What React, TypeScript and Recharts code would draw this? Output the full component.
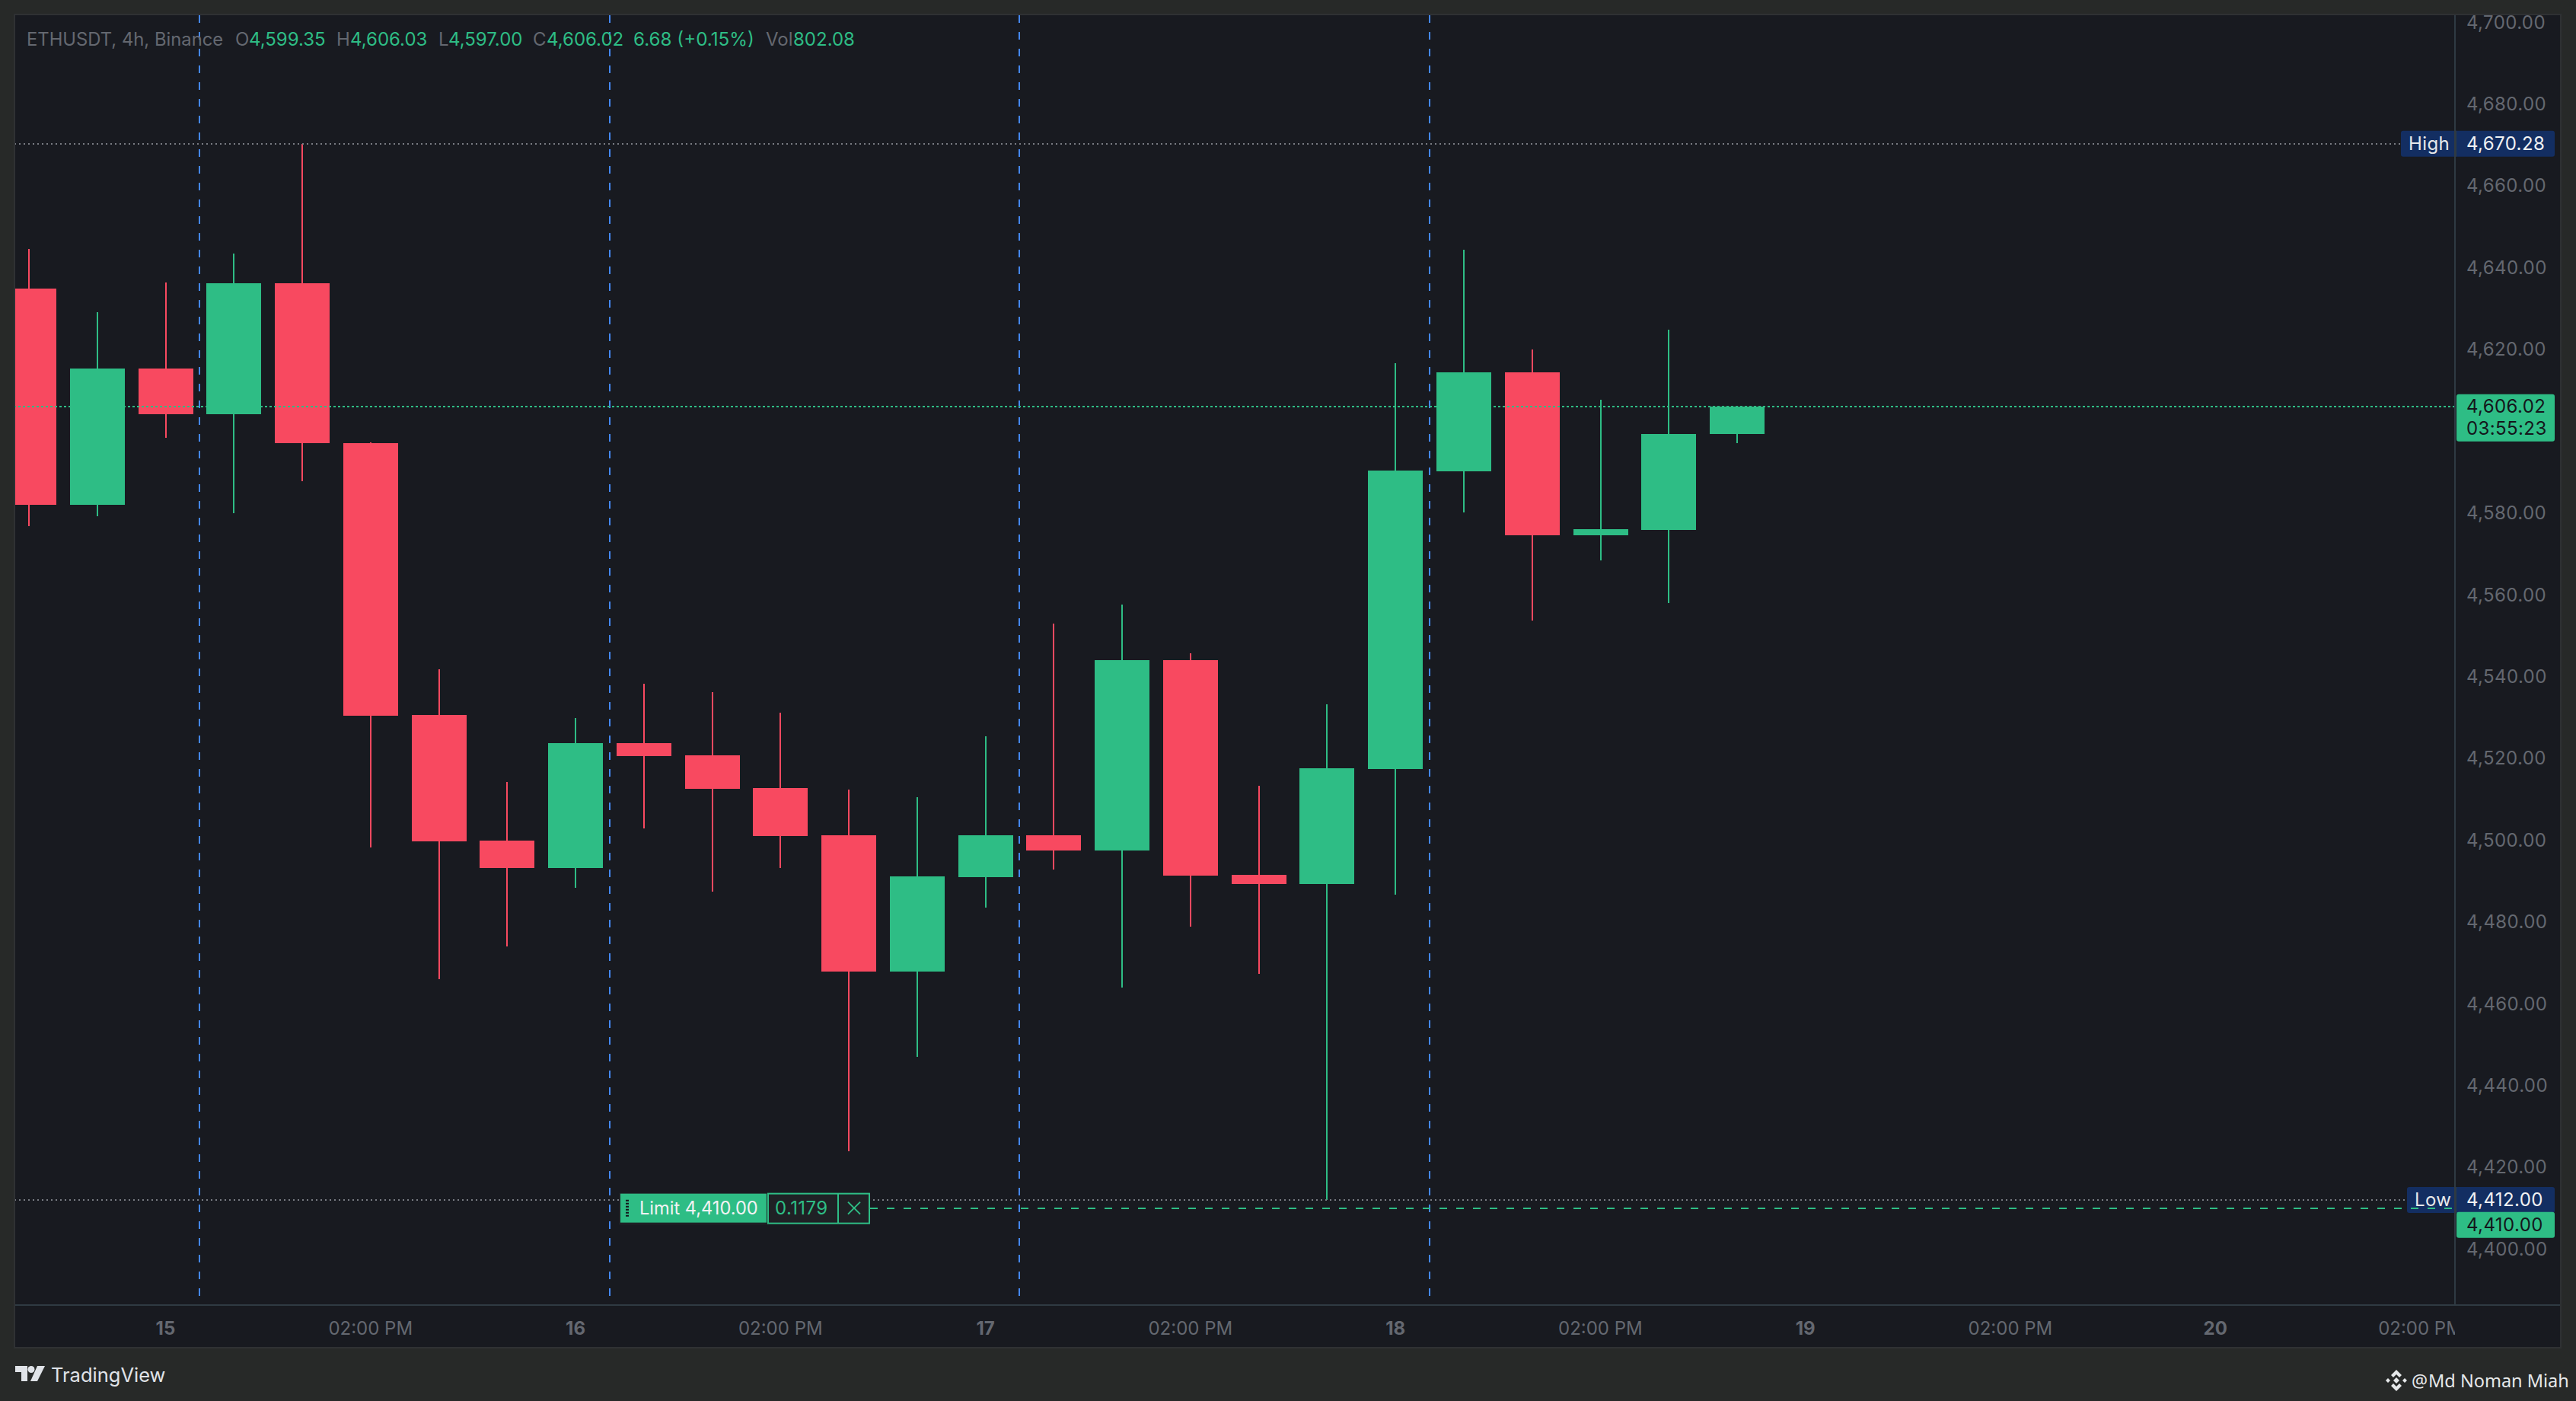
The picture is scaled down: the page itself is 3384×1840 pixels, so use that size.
import { Bar, ComposedChart, ReferenceLine, XAxis, YAxis } from "recharts";

const opens = [4634.9, 4582.0, 4615.3, 4604.1, 4636.2, 4597.1, 4530.6, 4499.8, 4493.2, 4523.7, 4520.7, 4512.7, 4501.2, 4467.9, 4491.0, 4501.2, 4497.4, 4544.0, 4491.5, 4489.3, 4517.4, 4590.1, 4614.4, 4574.5, 4575.8, 4599.35];
const highs = [4644.5, 4629.1, 4636.3, 4643.4, 4670.28, 4597.2, 4541.7, 4514.2, 4529.9, 4538.2, 4536.2, 4531.2, 4512.3, 4510.5, 4525.4, 4553.0, 4557.6, 4545.7, 4513.3, 4533.2, 4616.6, 4644.4, 4619.9, 4607.7, 4624.8, 4606.03];
const lows = [4576.8, 4579.2, 4598.3, 4580.0, 4587.7, 4498.2, 4466.0, 4474.0, 4488.4, 4502.8, 4487.4, 4493.2, 4423.9, 4447.0, 4483.5, 4492.8, 4464.0, 4478.8, 4467.3, 4412.0, 4486.7, 4580.1, 4553.7, 4568.4, 4557.9, 4597.0];
const closes = [4582.0, 4615.3, 4604.1, 4636.2, 4597.1, 4530.4, 4499.6, 4493.2, 4523.7, 4520.5, 4512.6, 4501.0, 4467.9, 4491.1, 4501.2, 4497.4, 4544.0, 4491.3, 4489.3, 4517.6, 4590.4, 4614.4, 4574.5, 4576.0, 4599.3, 4606.02];

const xTicks = [2, 5, 8, 11, 14, 17, 20, 23, 26, 29, 32, 35];
const xLabels = ["15", "02:00 PM", "16", "02:00 PM", "17", "02:00 PM", "18", "02:00 PM", "19", "02:00 PM", "20", "02:00 PM"];
const yTicks = [4400, 4420, 4440, 4460, 4480, 4500, 4520, 4540, 4560, 4580, 4620, 4640, 4660, 4680, 4700];
const sessionBreaks = [2.5, 8.5, 14.5, 20.5];

const highPrice = 4670.28;
const lowPrice = 4412;
const lastPrice = 4606.02;
const limitPrice = 4410;
const yMin = 4386.29;
const yMax = 4701.69;

const GREEN = "#2ebd85";
const RED = "#f84960";
const GRAY = "#646870";
const NAVY = "#132e62";
const AXIS = "#2f3a43";
const FONT = "Inter, sans-serif";
const SPACING = 0.4;

const candles = opens.map((open, i) => ({
  index: i,
  open,
  high: highs[i],
  low: lows[i],
  close: closes[i],
  range: [lows[i], highs[i]]
}));

// wick plus body, the body is worked out from the bar the scale gave us
function Candle(props: any) {
  const { x, y, width, height, payload } = props;
  const perUnit = height / (payload.high - payload.low);
  const top = y + (payload.high - Math.max(payload.open, payload.close)) * perUnit;
  const bottom = y + (payload.high - Math.min(payload.open, payload.close)) * perUnit;
  const color = payload.close >= payload.open ? GREEN : RED;
  return (
    <g shapeRendering="crispEdges">
      <rect x={Math.round(x + width / 2 - 1)} y={y} width={2} height={height} fill={color} />
      <rect x={Math.round(x)} y={Math.round(top)} width={width} height={Math.round(bottom) - Math.round(top)} fill={color} />
    </g>
  );
}

function TimeTick(props: any) {
  const { x, y, payload } = props;
  const label = xLabels[xTicks.indexOf(payload.value)];
  const isDay = label.length < 3;
  return (
    <text
      x={x}
      y={y + 28}
      textAnchor="middle"
      dominantBaseline="central"
      fill={GRAY}
      fontSize={24}
      fontFamily={FONT}
      fontWeight={isDay ? 700 : 400}
      clipPath="url(#plotClip)"
    >
      {label}
    </text>
  );
}

function PriceTick(props: any) {
  const { x, y, payload } = props;
  return (
    <text
      x={x}
      y={y}
      dominantBaseline="central"
      fill={GRAY}
      fontSize={24}
      fontFamily={FONT}
      letterSpacing={SPACING}
    >
      {payload.value.toLocaleString("en-US", { minimumFractionDigits: 2 })}
    </text>
  );
}

function tagText(x: number, y: number, text: string, fill: string) {
  return (
    <text
      x={x}
      y={y}
      fill={fill}
      fontSize={24}
      fontFamily={FONT}
      letterSpacing={SPACING}
      dominantBaseline="central"
    >
      {text}
    </text>
  );
}

function HighTag(props: any) {
  const y = props.viewBox.y;
  return (
    <g>
      <rect x={3154} y={y - 17} width={202} height={34} rx={3} fill={NAVY} />
      <rect x={3225} y={y - 17} width={2} height={34} fill={AXIS} />
      {tagText(3164, y, "High", "#e8e9eb")}
      {tagText(3240, y, "4,670.28", "#f0f1f2")}
    </g>
  );
}

function LowTag(props: any) {
  const y = props.viewBox.y;
  return (
    <g>
      <rect x={3162} y={y - 17} width={194} height={34} rx={3} fill={NAVY} />
      <rect x={3225} y={y - 17} width={2} height={34} fill={AXIS} />
      {tagText(3172, y, "Low", "#e8e9eb")}
      {tagText(3240, y, "4,412.00", "#f0f1f2")}
    </g>
  );
}

function LastTag(props: any) {
  const y = props.viewBox.y;
  return (
    <g>
      <rect x={3227} y={y - 16} width={129} height={62} rx={3} fill={GREEN} />
      {tagText(3240, y, "4,606.02", "#14161b")}
      {tagText(3240, y + 29, "03:55:23", "#14161b")}
    </g>
  );
}

function LimitWidget(props: any) {
  const y = props.viewBox.y;
  return (
    <g>
      <rect x={3227} y={y + 5} width={129} height={34} rx={3} fill={GREEN} />
      {tagText(3240, y + 22, "4,410.00", "#14161b")}

      <rect x={813} y={y - 20} width={196} height={42} fill="#1f2125" />
      <rect x={815} y={y - 19} width={192} height={38} fill={GREEN} />
      <line x1={824} x2={824} y1={y - 11} y2={y + 12} stroke="#14161b" strokeWidth={4} strokeDasharray="2 2" />
      <text
        x={840}
        y={y}
        fill="#f2f3f3"
        fontSize={23.6}
        fontFamily={FONT}
        dominantBaseline="central"
      >
        Limit 4,410.00
      </text>
      <rect x={1009} y={y - 19} width={133} height={39} fill="#1f2125" stroke={GREEN} strokeWidth={2} />
      <line x1={1101} x2={1101} y1={y - 19} y2={y + 20} stroke={GREEN} strokeWidth={2} />
      {tagText(1018, y, "0.1179", GREEN)}
      <path
        d={`M${1114} ${y - 8} L${1130} ${y + 8} M${1130} ${y - 8} L${1114} ${y + 8}`}
        stroke={GREEN}
        strokeWidth={2}
      />
    </g>
  );
}

const legendParts: [number, string, string, number][] = [
  [35, "ETHUSDT, 4h, Binance", GRAY, 23.8],
  [309, "O", GRAY, 24],
  [327, "4,599.35", GREEN, 24],
  [442, "H", GRAY, 24],
  [460, "4,606.03", GREEN, 24],
  [576, "L", GRAY, 24],
  [589, "4,597.00", GREEN, 24],
  [700, "C", GRAY, 24],
  [718, "4,606.02", GREEN, 24],
  [832, "6.68 (+0.15%)", GREEN, 24.2],
  [1006, "Vol", GRAY, 24],
  [1042, "802.08", GREEN, 24]
];

export default function App() {
  return (
    <div
      style={{
        position: "absolute",
        left: 0,
        top: 0,
        width: 3384,
        height: 1840,
        background: "#272928",
        overflow: "hidden",
        fontFamily: FONT
      }}
    >
      <div
        style={{
          position: "absolute",
          left: 20,
          top: 20,
          width: 3343,
          height: 1749,
          background: "#181a20",
          outline: "2px solid #2f3133"
        }}
      />
      <div style={{ position: "absolute", left: 3225, top: 1713, width: 138, height: 2, background: AXIS }} />

      <ComposedChart
        width={3384}
        height={1840}
        data={candles}
        margin={{ top: 20, left: 20, right: 21, bottom: 71 }}
        style={{ position: "absolute", left: 0, top: 0 }}
      >
        <defs>
          <clipPath id="plotClip">
            <rect x={20} y={1700} width={3205} height={100} />
          </clipPath>
        </defs>
        <XAxis
          dataKey="index"
          type="number"
          domain={[-0.2, 35.507]}
          ticks={xTicks}
          interval={0}
          allowDataOverflow
          height={55}
          tickSize={0}
          tick={<TimeTick />}
          axisLine={{ stroke: AXIS, strokeWidth: 2 }}
          tickLine={false}
        />
        <YAxis
          orientation="right"
          width={138}
          domain={[yMin, yMax]}
          ticks={yTicks}
          interval={0}
          allowDataOverflow
          tickSize={0}
          tickMargin={15}
          tick={<PriceTick />}
          axisLine={{ stroke: AXIS, strokeWidth: 2 }}
          tickLine={false}
        />

        {sessionBreaks.map((x) => (
          <ReferenceLine
            key={x}
            segment={[
              { x, y: yMax },
              { x, y: yMin }
            ]}
            stroke="#4488f5"
            strokeWidth={2}
            strokeDasharray="10 12"
            shapeRendering="crispEdges"
          />
        ))}

        <Bar dataKey="range" barSize={72} shape={<Candle />} isAnimationActive={false} />

        <ReferenceLine
          y={lowPrice}
          stroke="#787b82"
          strokeWidth={2}
          strokeDasharray="2 4"
          shapeRendering="crispEdges"
          label={LowTag}
        />
        <ReferenceLine
          y={highPrice}
          stroke="#787b82"
          strokeWidth={2}
          strokeDasharray="2 4"
          shapeRendering="crispEdges"
          label={HighTag}
        />
        <ReferenceLine
          y={lastPrice}
          stroke={GREEN}
          strokeWidth={2}
          strokeDasharray="3 3"
          shapeRendering="crispEdges"
          label={LastTag}
        />
        <ReferenceLine
          segment={[
            { x: 12.31, y: limitPrice },
            { x: 35.507, y: limitPrice }
          ]}
          stroke={GREEN}
          strokeWidth={2}
          strokeDasharray="10 12"
          shapeRendering="crispEdges"
          label={LimitWidget}
        />
      </ComposedChart>

      {legendParts.map(([left, text, color, size]) => (
        <span
          key={left}
          style={{
            position: "absolute",
            left,
            top: 38,
            fontSize: size,
            lineHeight: "28px",
            color,
            whiteSpace: "nowrap"
          }}
        >
          {text}
        </span>
      ))}

      <svg style={{ position: "absolute", left: 20, top: 1794 }} width={40} height={21}>
        <path d="M0 0 H16 V20 H8 V8 H0 Z" fill="#e0e3e8" />
        <circle cx={21} cy={4.5} r={4.5} fill="#e0e3e8" />
        <path d="M29 0 H39 L29 20 H20 Z" fill="#e0e3e8" />
      </svg>
      <span
        style={{
          position: "absolute",
          left: 67,
          top: 1788,
          fontSize: 25.5,
          lineHeight: "36px",
          color: "#e0e3e8",
          whiteSpace: "nowrap"
        }}
      >
        TradingView
      </span>

      <svg style={{ position: "absolute", left: 3134, top: 1799 }} width={28} height={28}>
        <path
          d="M14 0 L21 7 L18 10 L14 6 L10 10 L7 7 Z M14 28 L7 21 L10 18 L14 22 L18 18 L21 21 Z M3 11 L6 14 L3 17 L0 14 Z M25 11 L28 14 L25 17 L22 14 Z M14 10 L18 14 L14 18 L10 14 Z"
          fill="#e6e8ea"
        />
      </svg>
      {[
        [3168, "@"],
        [3190, "Md Noman Miah"]
      ].map(([left, text]) => (
        <span
          key={text}
          style={{
            position: "absolute",
            left: left as number,
            top: 1795,
            fontSize: 23.5,
            lineHeight: "36px",
            fontFamily: "'Noto Sans', sans-serif",
            color: "#e6e8ea",
            whiteSpace: "nowrap"
          }}
        >
          {text}
        </span>
      ))}
    </div>
  );
}
